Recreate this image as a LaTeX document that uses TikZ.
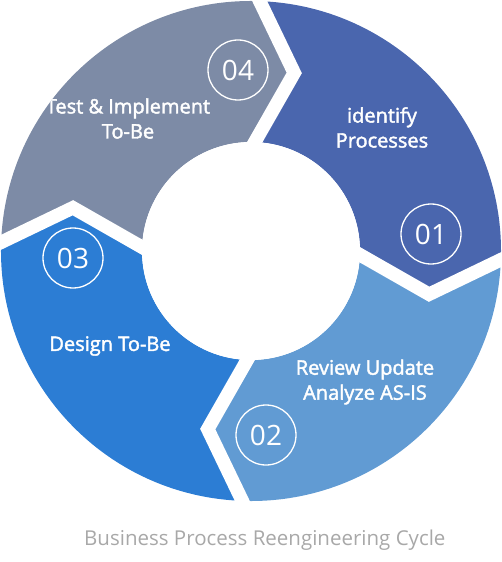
\documentclass[tikz,border=0pt]{standalone}
\usepackage{fontspec}
\setmainfont{Open Sans}
\newfontfamily\labelfont[FakeBold=2]{Open Sans}
\usetikzlibrary{calc}
\definecolor{segA}{HTML}{4A66AE}
\definecolor{segB}{HTML}{619BD3}
\definecolor{segC}{HTML}{2C7DD4}
\definecolor{segD}{HTML}{7D8BA6}
\definecolor{capgray}{HTML}{A8A8A8}
\begin{document}
\begin{tikzpicture}[x=1pt,y=1pt,
  lbl/.style={text=white, font=\labelfont\fontsize{20}{25}\selectfont, align=center, inner sep=0pt},
  num/.style={circle, draw=white, line width=1.3pt, minimum size=60pt, inner sep=0pt, text=white, font=\fontsize{28}{28}\selectfont},
  gapline/.style={draw=white, line width=13.5pt, line join=miter, miter limit=10},
  caption/.style={text=capgray, font=\fontsize{20.5}{24}\selectfont, anchor=base west, inner sep=0pt}]
\useasboundingbox (-251,-311) rectangle (251,251);
\def\Ro{250}\def\Ri{109}\def\Rm{179.5}\def\Dt{37}
% gap geometry
\foreach \k/\a in {1/88,2/-2,3/-92,4/178}{
  \coordinate (o\k) at (\a:\Ro);
  \coordinate (i\k) at (\a:\Ri);
  \coordinate (m\k) at ($(\a:\Rm)+(\a-90:\Dt)$);
}
% segments
\fill[segA] (o1) arc[start angle=88, end angle=-2, radius=\Ro] -- (m2) -- (i2)
  arc[start angle=-2, end angle=88, radius=\Ri] -- (m1) -- cycle;
\fill[segB] (o2) arc[start angle=-2, end angle=-92, radius=\Ro] -- (m3) -- (i3)
  arc[start angle=-92, end angle=-2, radius=\Ri] -- (m2) -- cycle;
\fill[segC] (o3) arc[start angle=-92, end angle=-182, radius=\Ro] -- (m4) -- (i4)
  arc[start angle=-182, end angle=-92, radius=\Ri] -- (m3) -- cycle;
\fill[segD] (o4) arc[start angle=178, end angle=88, radius=\Ro] -- (m1) -- (i1)
  arc[start angle=88, end angle=178, radius=\Ri] -- (m4) -- cycle;
% white gaps
\foreach \k in {1,2,3,4}{
  \draw[gapline] ($(m\k)!1.25!(o\k)$) -- (m\k) -- ($(m\k)!1.25!(i\k)$);
}
\fill[white] (0,0) circle[radius=\Ri];
% numbers
\node[num] (n1) at (180,17) {01};
\node[num] (n2) at (15,-184) {02};
\node[num] (n3) at (-178,-7) {03};
\node[num] (n4) at (-13,181) {04};
% labels
\begin{scope}
\clip (0,0) circle[radius=\Ro];
\node[lbl] (l1) at (131,123.5) {identify\\Processes};
\node[lbl] (l2) at (114,-131) {Review Update\\Analyze AS-IS};
\node[lbl] (l3) at (-141,-95) {Design To-Be};
\node[lbl] (l4) at (-123,132.5) {Test \& Implement\\To-Be};
\end{scope}
\node[caption] (cap) at (-167,-294) {Business Process Reengineering Cycle};
\end{tikzpicture}
\end{document}
